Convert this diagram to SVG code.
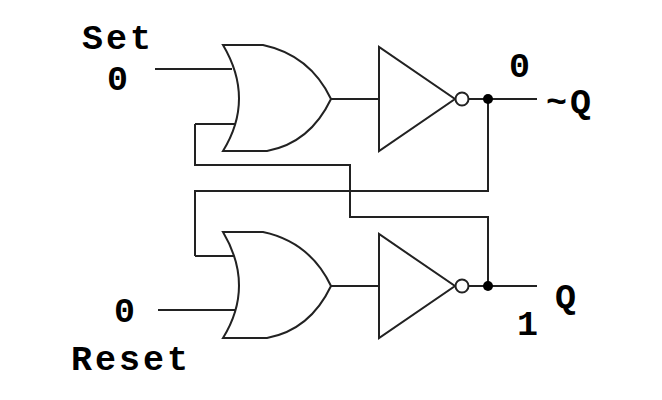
<svg xmlns="http://www.w3.org/2000/svg" width="662" height="400" viewBox="0 0 662 400">
<style>
.w{fill:none;stroke:#222;stroke-width:2}
.g{fill:#fff;stroke:#222;stroke-width:2}
text{font-family:"Liberation Mono",monospace;font-weight:bold;font-size:35px;fill:#000;letter-spacing:3px}
</style>
<rect width="662" height="400" fill="#fff"/>
<defs>
<path id="or" d="M223,45 L263,45 Q310,55 331,99 Q310,143 267,151 L223,151 Q255,99 223,45 Z"/>
<path id="not" d="M379,47 L379,151 L455,99 Z"/>
</defs>
<g id="connectors" class="w">
<path d="M155,69 H232 M195,124 H236 M331,99 H379 M469,99 H537"/>
<path d="M331,286 H379 M469,286 H537 M158,310 H236 M195,256 H236"/>
<path d="M488,99 V191 H195 V256"/>
<path d="M195,124 V165 H350 V217 H488 V286"/>
</g>
<g id="or1"><use href="#or" class="g"/></g>
<g id="not1"><use href="#not" class="g"/><circle cx="462" cy="99" r="6.5" class="g"/></g>
<g id="or2"><use href="#or" class="g" transform="translate(0,187)"/></g>
<g id="not2"><use href="#not" class="g" transform="translate(0,187)"/><circle cx="462" cy="286" r="6.5" class="g"/></g>
<circle cx="488" cy="99" r="5" fill="#000"/>
<circle cx="488" cy="286" r="5" fill="#000"/>
<text x="82" y="49">Set</text>
<text x="107" y="90">0</text>
<text x="509" y="77">0</text>
<text x="546" y="113">~Q</text>
<text x="555" y="308">Q</text>
<text x="114" y="322">0</text>
<text x="517" y="335">1</text>
<text x="71" y="370">Reset</text>
</svg>
